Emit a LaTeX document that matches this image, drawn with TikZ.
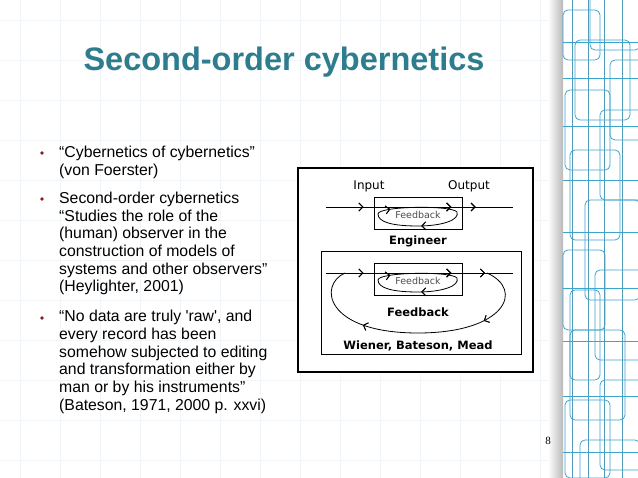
\documentclass[tikz,border=0pt]{standalone}
\usepackage{fontspec}
\setmainfont{Liberation Sans}
\newfontfamily\dejasans{DejaVu Sans}
\newfontfamily\serifnum{Liberation Serif}
\usetikzlibrary{arrows.meta,decorations.markings}
\definecolor{titlec}{HTML}{2E7D8E}
\definecolor{bul}{HTML}{8B1A1A}
\definecolor{deco}{HTML}{3AA6D0}
\definecolor{grid}{HTML}{F1F5F7}
\begin{document}
\begin{tikzpicture}[x=1pt,y=-1pt,
  bl/.style={anchor=west,font=\fontsize{15.8}{17.7}\selectfont,inner sep=0pt,align=left},
  dg/.style={font=\dejasans\fontsize{9.5}{11}\selectfont,inner sep=0pt,text=black!70},
  dgl/.style={font=\dejasans\fontsize{12}{13}\selectfont,inner sep=0pt},
  dgb/.style={font=\dejasans\bfseries\fontsize{11.5}{13}\selectfont,inner sep=0pt},
  ar/.style={postaction={decorate},decoration={markings,mark=at position #1 with {\arrow{Straight Barb[length=4pt,width=8pt]}}}},
  ln/.style={line width=0.8pt}]
\useasboundingbox (0,0) rectangle (638,478);
\fill[white] (0,0) rectangle (638,478);
% faint background grid
\foreach \x in {20,60,...,560} \draw[grid,line width=0.4pt] (\x,0)--(\x,478);
\foreach \y in {20,60,...,460} \draw[grid,line width=0.4pt] (0,\y)--(560,\y);
% right decoration
\shade[left color=white,right color=gray!55] (548,0) rectangle (563,478);
\foreach \a/\b/\c/\d in {563/10/600/60, 575/40/630/120, 590/-5/640/50, 565/90/610/170, 600/110/645/200, 570/150/620/240, 585/200/640/300, 563/250/605/330, 595/270/650/360, 570/330/625/420, 600/380/650/470, 565/400/610/478, 580/440/640/490, 610/60/650/140, 570/290/600/380}
  \draw[deco,line width=0.8pt,rounded corners=5pt] (\a,\b) rectangle (\c,\d);
\foreach \y in {42,78,126,180,232,288,341,396,452} \draw[deco,line width=0.8pt] (563,\y)--(638,\y);
\foreach \x in {572,588,604,622} \draw[deco!70!gray,line width=0.6pt] (\x,0)--(\x,478);
% title
\node[font=\bfseries\fontsize{32.5}{36}\selectfont,text=titlec] (title) at (284,62) {Second-order cybernetics};
% bullets
\foreach \y in {153,199,318} \fill[bul] (42,\y) circle (1.8pt);
\node[bl] (b1) at (59,162.5) {“Cybernetics of cybernetics”\\(von Foerster)};
\node[bl] (b2) at (59,243.5) {Second-order cybernetics\\“Studies the role of the\\(human) observer in the\\construction of models of\\systems and other observers”\\(Heylighter, 2001)};
\node[bl] (b3) at (59,362) {“No data are truly \textquotesingle raw\textquotesingle, and\\every record has been\\somehow subjected to editing\\and transformation either by\\man or by his instruments”\\(Bateson, 1971, 2000 p. xxvi)};
\node[font=\serifnum\fontsize{11}{12}\selectfont] (num) at (548,441) {8};
% diagram
\draw[line width=1.4pt,fill=white] (298,168) rectangle (533,372);
\node[dgl] (inp) at (369,186) {Input};
\node[dgl] (outp) at (469,186) {Output};
\draw[ln] (374,197) rectangle (462,229);
\coordinate (l1a) at (326,207); \coordinate (l1b) at (513,207);
\draw[ln,ar=0.2,ar=0.67,ar=0.8] (l1a)--(l1b);
\node[dg] (fb1) at (418,215) {Feedback};
\draw[ln,ar=0.08,ar=0.72] (378,214) .. controls (378,206) and (452,205) .. (457,212) .. controls (460,220) and (442,226) .. (418,226) .. controls (392,226) and (378,222) .. (378,214);
\node[dgb] (eng) at (418,241) {Engineer};
\draw[ln] (321,251) rectangle (521,354);
\draw[ln] (374,263) rectangle (462,295);
\coordinate (l2a) at (326,273); \coordinate (l2b) at (513,273);
\draw[ln,ar=0.2,ar=0.67,ar=0.85] (l2a)--(l2b);
\node[dg] (fb2) at (418,281) {Feedback};
\draw[ln,ar=0.08,ar=0.72] (378,280) .. controls (378,272) and (452,271) .. (457,278) .. controls (460,286) and (442,292) .. (418,292) .. controls (392,292) and (378,288) .. (378,280);
\draw[ln,ar=0.25,ar=0.72] (487,273) .. controls (525,290) and (505,333) .. (418,333) .. controls (325,333) and (318,285) .. (345,273);
\node[dgb] (fbb) at (418,312) {Feedback};
\node[dgb] (wbm) at (418,346) {Wiener, Bateson, Mead};
\end{tikzpicture}
\end{document}
